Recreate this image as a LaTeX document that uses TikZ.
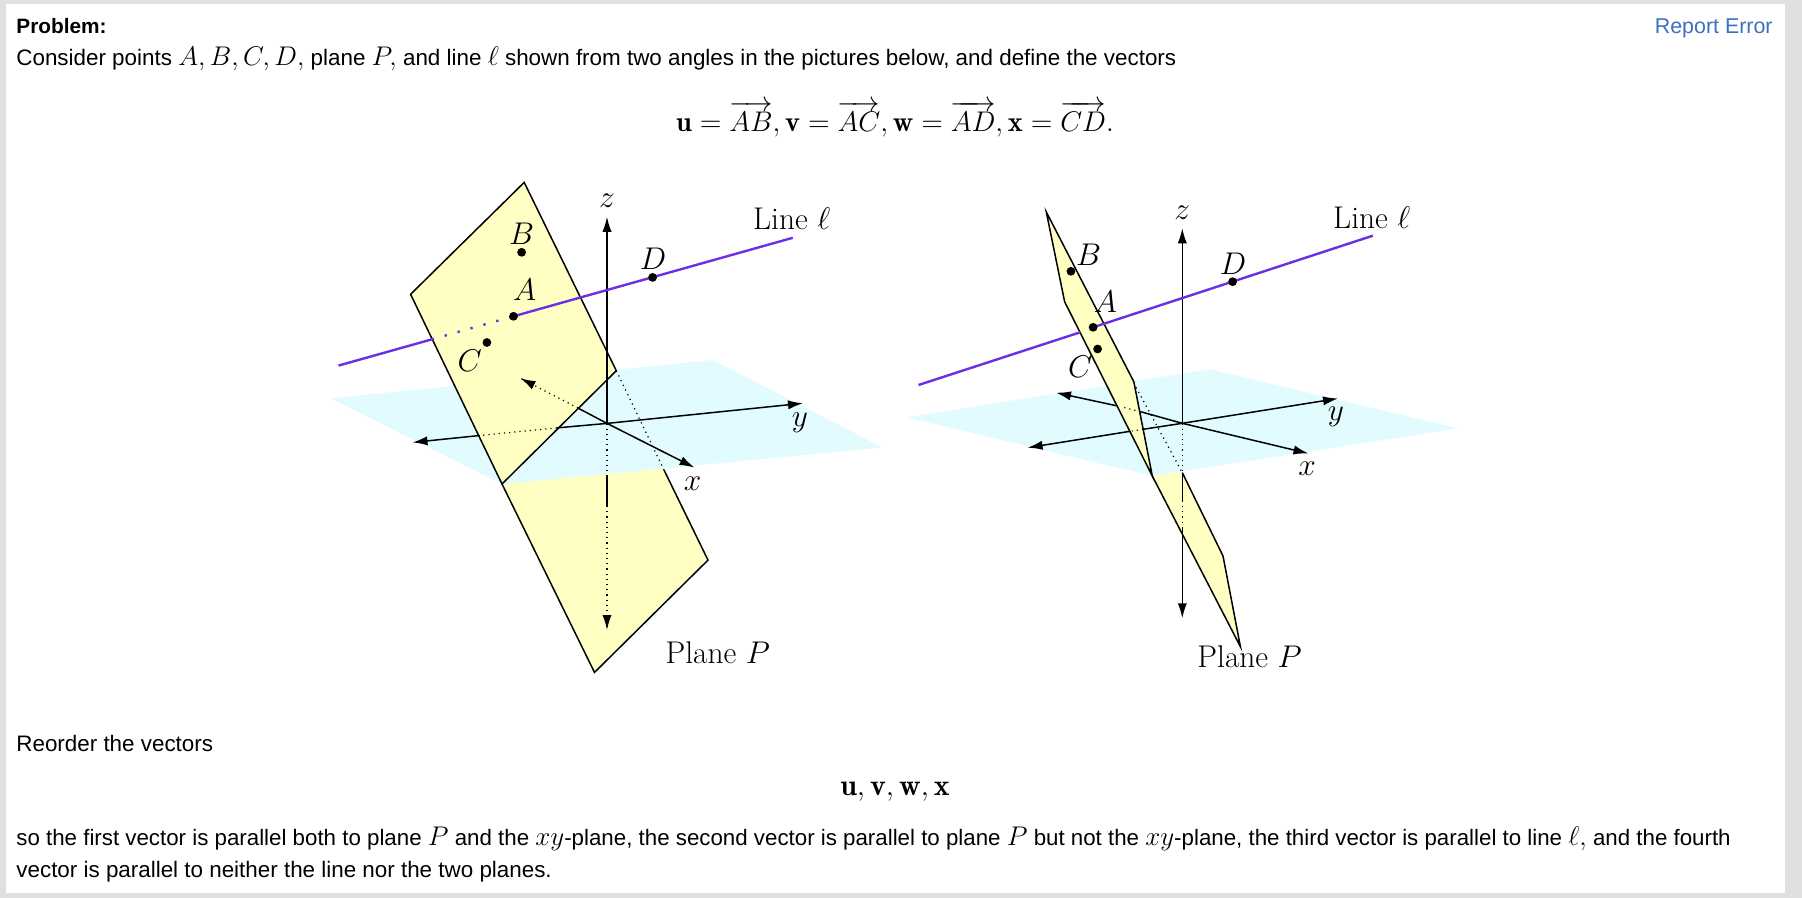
\documentclass[tikz,border=0pt]{standalone}
\usepackage{fix-cm}
\usepackage{fontspec}
\usepackage{amsmath}
\newfontfamily\bodyfont{Liberation Sans}
\usetikzlibrary{arrows.meta}
\definecolor{framegray}{HTML}{E0E0E0}
\definecolor{planey}{HTML}{FFFFC4}
\definecolor{planeb}{HTML}{E1FBFF}
\definecolor{linep}{HTML}{6D2EE6}
\definecolor{linkb}{HTML}{3F6FC0}
\newcommand{\mm}[1]{{\fontsize{13.5}{14}\selectfont$#1$}}
\tikzset{
  bodytext/.style={anchor=base west,inner sep=0pt,font=\bodyfont\fontsize{11.2}{12}\selectfont},
  figlabel/.style={inner sep=0pt,font=\fontsize{15.7}{18}\selectfont},
  edgeline/.style={black,line width=0.75pt,line join=miter},
  axisline/.style={black,line width=0.75pt},
  axistip/.style={axisline,-{Latex[length=7.5pt,width=4.6pt]}},
  hidden/.style={black,line width=0.6pt,dotted},
  lline/.style={linep,line width=1.2pt},
  lhidden/.style={linep,line width=1.2pt,dash pattern=on 1.2pt off 5.5pt},
  dotmark/.style={circle,fill=black,inner sep=0pt,minimum size=4.4pt}
}
\begin{document}
\begin{tikzpicture}[x=0.5pt,y=-0.5pt]
\useasboundingbox (0,0) rectangle (1802,898);
\fill[framegray] (0,0) rectangle (1802,898);
\fill[white] (6,4) rectangle (1785,893);

\node[bodytext,font=\bodyfont\bfseries\fontsize{10.4}{12}\selectfont] (title) at (16,34) {Problem:};
\node[inner sep=0pt,anchor=base east,font=\bodyfont\fontsize{10.7}{12}\selectfont,text=linkb] (report) at (1773,34) {Report Error};
\node[bodytext] (intro) at (16,66) {Consider points \mm{A,B,C,D,} plane \mm{P,} and line \mm{\ell} shown from two angles in the pictures below, and define the vectors};
\node[inner sep=0pt,font=\fontsize{14.2}{16}\selectfont] (eq) at (895,119) {$\mathbf{u}=\overrightarrow{AB},\mathbf{v}=\overrightarrow{AC},\mathbf{w}=\overrightarrow{AD},\mathbf{x}=\overrightarrow{CD}.$};
\node[bodytext] (reorder) at (16,751) {Reorder the vectors};
\node[inner sep=0pt,font=\fontsize{15}{16}\selectfont] (vecs) at (895,792) {$\mathbf{u},\mathbf{v},\mathbf{w},\mathbf{x}$};
\node[bodytext,font=\bodyfont\fontsize{11.15}{12}\selectfont] (so) at (16,845) {so the first vector is parallel both to plane \mm{P} and the \mm{xy}-plane, the second vector is parallel to plane \mm{P} but not the \mm{xy}-plane, the third vector is parallel to line \mm{\ell,} and the fourth};
\node[bodytext] (so2) at (16,877) {vector is parallel to neither the line nor the two planes.};

% ---------- left picture
\coordinate (Ltop) at (524.2,182.4);
\coordinate (Lleft) at (410.6,294.3);
\coordinate (Lbot) at (594.5,672.4);
\coordinate (Lright) at (708,560.1);
\coordinate (Lnear) at (616.3,370.7);
\coordinate (Lfoot) at (502,484);
\coordinate (Lhid) at (664,470);
\coordinate (Lbl) at (331,398.3);
\coordinate (Lbt) at (713,360.1);
\coordinate (Lbr) at (882.3,447.5);
\coordinate (LO) at (607,423.4);
\coordinate (Lzt) at (607,216.8);
\coordinate (Lz1) at (607,475);
\coordinate (Lz2) at (607,506);
\coordinate (Lzb) at (607,630);
\coordinate (Lyt) at (803,403.3);
\coordinate (Ly1) at (556.8,427.9);
\coordinate (Ly2) at (479.8,435.5);
\coordinate (Lyn) at (412.5,442.4);
\coordinate (Lxt) at (694.5,467.6);
\coordinate (Lx1) at (577.9,408);
\coordinate (Lxn) at (520.5,378.3);
\coordinate (Ll1) at (338.5,365.6);
\coordinate (Ll2) at (792.8,237.8);
\coordinate (Llb) at (431.7,339.4);
\coordinate (LAc) at (513.5,316.3);

\fill[planey] (Lfoot) -- (Lbot) -- (Lright) -- (Lnear) -- cycle;
\fill[planeb] (Lbl) -- (Lbt) -- (Lbr) -- (Lfoot) -- cycle;
\draw[edgeline] (Lfoot) -- (Lbot) -- (Lright) -- (Lhid);
\draw[hidden] (Lnear) -- (Lhid);
\draw[edgeline,fill=planey] (Ltop) -- (Lnear) -- (Lfoot) -- (Lleft) -- cycle;
\draw[axistip] (LO) -- (Lzt);
\draw[hidden] (LO) -- (Lz1);
\draw[axisline] (Lz1) -- (Lz2);
\draw[hidden] (Lz2) -- (Lzb);
\draw[axistip,dash pattern=on 0pt off 400pt] (Lz2) -- (Lzb);
\draw[axistip] (LO) -- (Lyt);
\draw[axisline] (LO) -- (Ly1);
\draw[hidden] (Ly1) -- (Ly2);
\draw[axistip] (Ly2) -- (Lyn);
\draw[axistip] (LO) -- (Lxt);
\draw[axisline] (LO) -- (Lx1);
\draw[hidden] (Lx1) -- (Lxn);
\draw[axistip,dash pattern=on 0pt off 400pt] (Lx1) -- (Lxn);

\draw[lline] (Ll1) -- (Llb);
\draw[lhidden] (Llb) -- (LAc);
\draw[lline] (LAc) -- (Ll2);
\node[dotmark] (LB) at (521.6,252.3) {};
\node[dotmark] (LA) at (LAc) {};
\node[dotmark] (LC) at (486.9,342.5) {};
\node[dotmark] (LD) at (652.6,277.4) {};
\node[figlabel] (LlB) at (521.6,234) {$B$};
\node[figlabel] (LlA) at (524.6,290.2) {$A$};
\node[figlabel] (LlC) at (469.8,360.4) {$C$};
\node[figlabel] (LlD) at (653,258.8) {$D$};
\node[figlabel] (Llz) at (607,200.6) {$z$};
\node[figlabel] (Llx) at (692.5,483.5) {$x$};
\node[figlabel] (Lly) at (800,422.5) {$y$};
\node[figlabel] (Lline) at (791.7,219.2) {Line $\ell$};
\node[figlabel] (Lplane) at (717.7,652.4) {Plane $P$};

% ---------- right picture
\coordinate (Rtop) at (1046.3,212);
\coordinate (Rleft) at (1064.6,301.7);
\coordinate (Rbot) at (1240.4,646.7);
\coordinate (Rright) at (1223,556);
\coordinate (Rnear) at (1133.8,381.7);
\coordinate (Rfoot) at (1152.3,476);
\coordinate (Rhid) at (1182.3,472.7);
\coordinate (Rhs) at (1136,387.3);
\coordinate (Rbl) at (906.7,417.3);
\coordinate (Rbt) at (1210,369.3);
\coordinate (Rbr) at (1457.9,428.3);
\coordinate (RO) at (1182.3,423.3);
\coordinate (Rzt) at (1182.3,228.3);
\coordinate (Rz1) at (1182.3,472.7);
\coordinate (Rz2) at (1182.3,500.7);
\coordinate (Rz3) at (1182.3,528.3);
\coordinate (Rzb) at (1182.3,618.3);
\coordinate (Rxt) at (1308.5,453.5);
\coordinate (Rx1) at (1140.5,411.7);
\coordinate (Rx2) at (1120.9,406.7);
\coordinate (Rxn) at (1056,392.7);
\coordinate (Ryt) at (1338,398.5);
\coordinate (Ry1) at (1143,429.3);
\coordinate (Ry2) at (1132,431);
\coordinate (Ryn) at (1027.6,447.7);
\coordinate (Rl1) at (918.5,385);
\coordinate (Rl2) at (1372.8,235.7);
\coordinate (Rlb) at (1080.2,332.3);
\coordinate (RAc) at (1093.1,327.3);

\fill[planey] (Rfoot) -- (Rbot) -- (Rright) -- (Rnear) -- cycle;
\fill[planeb] (Rbl) -- (Rbt) -- (Rbr) -- (Rfoot) -- cycle;
\draw[edgeline] (Rfoot) -- (Rbot) -- (Rright) -- (Rhid);
\draw[hidden] (Rhs) -- (Rhid);
\draw[axistip] (RO) -- (Rzt);
\draw[hidden] (RO) -- (Rz1);
\draw[axisline] (Rz1) -- (Rz2);
\draw[axistip] (Rz3) -- (Rzb);
\draw[axistip] (RO) -- (Ryt);
\draw[axistip] (RO) -- (Rxt);
\draw[axistip] (Rx2) -- (Rxn);
\draw[axistip] (Ry2) -- (Ryn);
\draw[axisline] (RO) -- (Ry1);
\draw[axisline] (RO) -- (Rx1);
\draw[edgeline,fill=planey] (Rtop) -- (Rnear) -- (Rfoot) -- (Rleft) -- cycle;
\draw[hidden] (Rx1) -- (Rx2);
\draw[hidden] (Ry1) -- (Ry2);
\draw[hidden] (Rz2) -- (Rz3);
\draw[lline] (Rl1) -- (Rlb);
\draw[lline] (RAc) -- (Rl2);
\node[dotmark] (RB) at (1070.9,271.3) {};
\node[dotmark] (RA) at (RAc) {};
\node[dotmark] (RC) at (1097.6,349) {};
\node[dotmark] (RD) at (1232.6,281.7) {};
\node[figlabel] (RlB) at (1088.7,255) {$B$};
\node[figlabel] (RlA) at (1105.3,301.7) {$A$};
\node[figlabel] (RlC) at (1080.2,366.7) {$C$};
\node[figlabel] (RlD) at (1233,263.3) {$D$};
\node[figlabel] (Rlz) at (1182.3,212.3) {$z$};
\node[figlabel] (Rlx) at (1307,468.8) {$x$};
\node[figlabel] (Rly) at (1335.8,416.5) {$y$};
\node[figlabel] (Rline) at (1371.7,217.3) {Line $\ell$};
\node[figlabel] (Rplane) at (1249.6,656.7) {Plane $P$};
\end{tikzpicture}
\end{document}
